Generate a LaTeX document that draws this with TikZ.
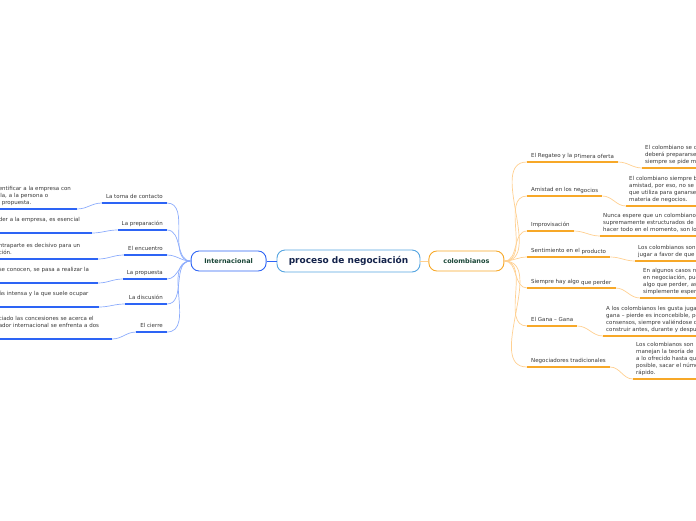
\documentclass[tikz,border=0pt]{standalone}
\usepackage{fontspec}
\setmainfont{DejaVu Sans}
\usepackage{xcolor}
\usepackage{tikz}
\usetikzlibrary{positioning}
\definecolor{intblue}{RGB}{45,100,245}
\definecolor{intlight}{RGB}{140,172,252}
\definecolor{colorange}{RGB}{247,168,40}
\definecolor{collight}{RGB}{255,208,145}
\definecolor{rootblue}{RGB}{85,165,225}
\definecolor{rootnavy}{RGB}{20,35,75}
\definecolor{maingreen}{RGB}{25,70,55}
\definecolor{textgray}{RGB}{55,55,55}

\begin{document}
\begin{tikzpicture}[x=1pt, y=-1pt,
    root/.style={draw=rootblue, fill=white, rounded corners=8pt, line width=0.9pt,
                 minimum width=143pt, minimum height=22pt,
                 font=\fontsize{9}{11}\selectfont\bfseries, text=rootnavy},
    main/.style={draw=#1, fill=white, rounded corners=8pt, line width=0.9pt,
                 minimum width=75pt, minimum height=20pt,
                 font=\fontsize{6.5}{8}\selectfont\bfseries, text=maingreen},
    sub/.style={font=\fontsize{5.5}{7}\selectfont, text=textgray, inner xsep=4pt,
                inner ysep=3pt, text height=4.2pt, text depth=1.3pt},
    leaf/.style={font=\fontsize{5.5}{7}\selectfont, text=textgray, align=left,
                 inner xsep=3pt, inner ysep=3pt,
                 execute at end node={\rule[-1.3pt]{0pt}{1pt}}},
    uline/.style={line width=1.4pt, draw=#1},
    link/.style={line width=0.7pt, draw=#1},
]
    \useasboundingbox (0,0) rectangle (696,520);
    \clip (0,0) rectangle (696,520);

    \node[root] (root) at (348.5,261) {proceso de negociación};
    \node[main=intblue, left=10pt of root] (int) {Internacional};
    \node[main=colorange, right=8pt of root] (col) {colombianos};

    \node[sub, anchor=south east] (s1) at (167,203) {La toma de contacto};
    \node[sub, anchor=south east] (s2) at (167,230) {La preparación};
    \node[sub, anchor=south east] (s3) at (167,255) {El encuentro};
    \node[sub, anchor=south east] (s4) at (167,279) {La propuesta};
    \node[sub, anchor=south east] (s5) at (167,304) {La discusión};
    \node[sub, anchor=south east] (s6) at (167,332) {El cierre};

    \node[leaf, anchor=south east, text width=75pt] (l1) at (77,209)
        {entificar a la empresa con\\lla, a la persona o\\\hspace{3pt}propuesta.};
    \node[leaf, anchor=south east, text width=90pt] (l2) at (92,233)
        {der a la empresa, es esencial\\\mbox{}};
    \node[leaf, anchor=south east, text width=96pt] (l3) at (98,259)
        {ntraparte es decisivo para un\\ción.};
    \node[leaf, anchor=south east, text width=96pt] (l4) at (98,283)
        {se conocen, se pasa a realizar la\\\mbox{}};
    \node[leaf, anchor=south east, text width=97pt] (l5) at (99,307)
        {ás intensa y la que suele ocupar\\\mbox{}};
    \node[leaf, anchor=south east, text width=110pt] (l6) at (112,339)
        {ciado las concesiones se acerca el\\ador internacional se enfrenta a dos\\\mbox{}};

    \node[sub, anchor=south west] (c1) at (527,162) {El Regateo y la pr\raisebox{-1.2pt}{imera oferta}};
    \node[sub, anchor=south west] (c2) at (527,196) {Amistad en los ne\raisebox{-1.2pt}{gocios}};
    \node[sub, anchor=south west] (c3) at (527,231) {Improvisación};
    \node[sub, anchor=south west] (c4) at (527,257) {Sentimiento en el \raisebox{-1.2pt}{producto}};
    \node[sub, anchor=south west] (c5) at (527,288) {Siempre hay algo \raisebox{-1.2pt}{que perder}};
    \node[sub, anchor=south west] (c6) at (527,326) {El Gana – Gana};
    \node[sub, anchor=south west] (c7) at (527,367) {Negociadores tradicionales};

    \node[leaf, anchor=south west, text width=130pt] (k1) at (642,168)
        {El colombiano se considera\\deberá prepararse para\\siempre se pide más};
    \node[leaf, anchor=south west, text width=130pt] (k2) at (626,206)
        {El colombiano siempre busca\\amistad, por eso, no se\\que utiliza para ganarse\\materia de negocios.};
    \node[leaf, anchor=south west, text width=130pt] (k3) at (600,236)
        {Nunca espere que un colombiano sea\\supremamente estructurados de nada\\hacer todo en el momento, son los};
    \node[leaf, anchor=south west, text width=130pt] (k4) at (635,261)
        {Los colombianos son\\jugar a favor de que};
    \node[leaf, anchor=south west, text width=130pt] (k5) at (640,298)
        {En algunos casos no\\en negociación, pueden\\algo que perder, así\\simplemente esperan};
    \node[leaf, anchor=south west, text width=130pt] (k6) at (603,336)
        {A los colombianos les gusta jugar\\gana – pierde es inconcebible, por\\consensos, siempre valiéndose de\\construir antes, durante y después};
    \node[leaf, anchor=south west, text width=130pt] (k7) at (633,379)
        {Los colombianos son\\manejan la teoría de\\a lo ofrecido hasta que\\posible, sacar el número\\rápido.};

    \draw[link=intblue] (root) -- (int);
    \draw[link=collight] (root) -- (col);

    \draw[link=intlight] (int.west) to[out=180,in=0] (s1.south east);
    \draw[link=intlight] (int.west) to[out=180,in=0] (s2.south east);
    \draw[link=intlight] (int.west) to[out=180,in=0] (s3.south east);
    \draw[link=intlight] (int.west) to[out=180,in=0] (s4.south east);
    \draw[link=intlight] (int.west) to[out=180,in=0] (s5.south east);
    \draw[link=intlight] (int.west) to[out=180,in=0] (s6.south east);
    \draw[link=intlight] (s1.south west) to[out=180,in=0] (l1.south east);
    \draw[link=intlight] (s2.south west) to[out=180,in=0] (l2.south east);
    \draw[link=intlight] (s3.south west) to[out=180,in=0] (l3.south east);
    \draw[link=intlight] (s4.south west) to[out=180,in=0] (l4.south east);
    \draw[link=intlight] (s5.south west) to[out=180,in=0] (l5.south east);
    \draw[link=intlight] (s6.south west) to[out=180,in=0] (l6.south east);

    \draw[link=collight] (col.east) to[out=0,in=180] (c1.south west);
    \draw[link=collight] (col.east) to[out=0,in=180] (c2.south west);
    \draw[link=collight] (col.east) to[out=0,in=180] (c3.south west);
    \draw[link=collight] (col.east) to[out=0,in=180] (c4.south west);
    \draw[link=collight] (col.east) to[out=0,in=180] (c5.south west);
    \draw[link=collight] (col.east) to[out=0,in=180] (c6.south west);
    \draw[link=collight] (col.east) to[out=0,in=180] (c7.south west);
    \draw[link=collight] (c1.south east) to[out=0,in=180] (k1.south west);
    \draw[link=collight] (c2.south east) to[out=0,in=180] (k2.south west);
    \draw[link=collight] (c3.south east) to[out=0,in=180] (k3.south west);
    \draw[link=collight] (c4.south east) to[out=0,in=180] (k4.south west);
    \draw[link=collight] (c5.south east) to[out=0,in=180] (k5.south west);
    \draw[link=collight] (c6.south east) to[out=0,in=180] (k6.south west);
    \draw[link=collight] (c7.south east) to[out=0,in=180] (k7.south west);

    \draw[uline=intblue] (s1.south west) -- (s1.south east) (s2.south west) -- (s2.south east)
        (s3.south west) -- (s3.south east) (s4.south west) -- (s4.south east)
        (s5.south west) -- (s5.south east) (s6.south west) -- (s6.south east);
    \draw[uline=intblue] (l1.south west) -- (l1.south east) (l2.south west) -- (l2.south east)
        (l3.south west) -- (l3.south east) (l4.south west) -- (l4.south east)
        (l5.south west) -- (l5.south east) (l6.south west) -- (l6.south east);
    \draw[uline=colorange] (c1.south west) -- (c1.south east) (c2.south west) -- (c2.south east)
        (c3.south west) -- (c3.south east) (c4.south west) -- (c4.south east)
        (c5.south west) -- (c5.south east) (c6.south west) -- (c6.south east)
        (c7.south west) -- (c7.south east);
    \draw[uline=colorange] (k1.south west) -- (k1.south east) (k2.south west) -- (k2.south east)
        (k3.south west) -- (k3.south east) (k4.south west) -- (k4.south east)
        (k5.south west) -- (k5.south east) (k6.south west) -- (k6.south east)
        (k7.south west) -- (k7.south east);
\end{tikzpicture}
\end{document}
